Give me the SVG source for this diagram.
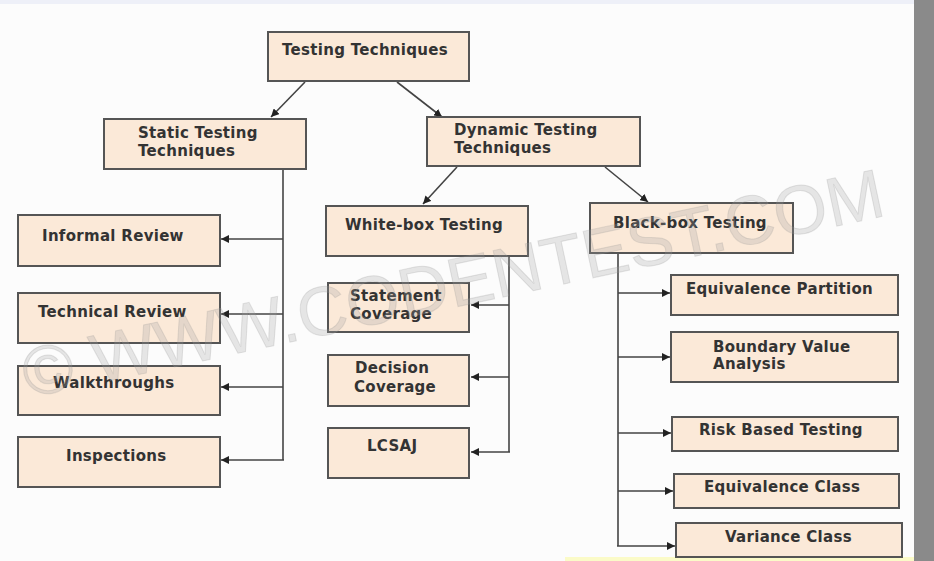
<svg xmlns="http://www.w3.org/2000/svg" width="934" height="561" viewBox="0 0 934 561">
<style>
.box{fill:#fbe9d8;stroke:#555;stroke-width:2}
.t{font-family:"DejaVu Sans","Liberation Sans",sans-serif;font-weight:bold;font-size:15px;letter-spacing:0.3px;fill:#333}
.c{fill:none;stroke:#444;stroke-width:1.6}
.wm{font-family:"Liberation Sans",Arial,sans-serif;font-size:69px;fill:#a0a0a0;fill-opacity:0.25;stroke:#909090;stroke-opacity:0.22;stroke-width:1}
</style>
<defs>
<marker id="ah" markerUnits="userSpaceOnUse" markerWidth="9" markerHeight="8" refX="8" refY="4" orient="auto">
<path d="M0,0 L8,4 L0,8 z" fill="#222"/>
</marker>
</defs>
<rect x="0" y="0" width="934" height="561" fill="#fcfcfc"/>
<rect x="0" y="0" width="914" height="4" fill="#eef0f8"/>
<rect x="914" y="0" width="20" height="561" fill="#8a8a8a"/>
<rect x="565" y="557" width="349" height="4" fill="#fbfbc8"/>

<g id="connectors">
<line class="c" x1="305" y1="82" x2="271" y2="117" marker-end="url(#ah)"/>
<line class="c" x1="397" y1="82" x2="442" y2="117" marker-end="url(#ah)"/>
<line class="c" x1="457" y1="167" x2="423" y2="204" marker-end="url(#ah)"/>
<line class="c" x1="605" y1="167" x2="648" y2="202" marker-end="url(#ah)"/>
<line class="c" x1="283" y1="169" x2="283" y2="460"/>
<line class="c" x1="283" y1="239" x2="221" y2="239" marker-end="url(#ah)"/>
<line class="c" x1="283" y1="314" x2="221" y2="314" marker-end="url(#ah)"/>
<line class="c" x1="283" y1="387" x2="221" y2="387" marker-end="url(#ah)"/>
<line class="c" x1="284" y1="460" x2="221" y2="460" marker-end="url(#ah)"/>
<line class="c" x1="509" y1="256" x2="509" y2="452"/>
<line class="c" x1="509" y1="305" x2="471" y2="305" marker-end="url(#ah)"/>
<line class="c" x1="509" y1="377" x2="471" y2="377" marker-end="url(#ah)"/>
<line class="c" x1="510" y1="452" x2="471" y2="452" marker-end="url(#ah)"/>
<line class="c" x1="618" y1="253" x2="618" y2="546"/>
<line class="c" x1="618" y1="293" x2="670" y2="293" marker-end="url(#ah)"/>
<line class="c" x1="618" y1="357" x2="670" y2="357" marker-end="url(#ah)"/>
<line class="c" x1="618" y1="433" x2="671" y2="433" marker-end="url(#ah)"/>
<line class="c" x1="618" y1="491" x2="673" y2="491" marker-end="url(#ah)"/>
<line class="c" x1="617" y1="546" x2="675" y2="546" marker-end="url(#ah)"/>
</g>

<g id="testing-techniques"><rect class="box" x="268" y="32" width="201" height="49"/><text class="t" x="282" y="55">Testing Techniques</text></g>
<g id="static"><rect class="box" x="104" y="119" width="202" height="50"/><text class="t" x="138" y="138">Static Testing</text><text class="t" x="138" y="156">Techniques</text></g>
<g id="dynamic"><rect class="box" x="427" y="117" width="213" height="49"/><text class="t" x="454" y="135">Dynamic Testing</text><text class="t" x="454" y="153">Techniques</text></g>
<g id="white-box"><rect class="box" x="326" y="206" width="202" height="50"/><text class="t" x="345" y="230">White-box Testing</text></g>
<g id="black-box"><rect class="box" x="590" y="203" width="203" height="50"/><text class="t" x="613" y="228">Black-box Testing</text></g>
<g id="informal-review"><rect class="box" x="18" y="215" width="202" height="51"/><text class="t" x="42" y="241">Informal Review</text></g>
<g id="technical-review"><rect class="box" x="18" y="293" width="202" height="50"/><text class="t" x="38" y="317">Technical Review</text></g>
<g id="walkthroughs"><rect class="box" x="18" y="366" width="202" height="49"/><text class="t" x="53" y="388">Walkthroughs</text></g>
<g id="inspections"><rect class="box" x="18" y="437" width="202" height="50"/><text class="t" x="66" y="461">Inspections</text></g>
<g id="statement-coverage"><rect class="box" x="328" y="283" width="141" height="49"/><text class="t" x="350" y="301">Statement</text><text class="t" x="350" y="319">Coverage</text></g>
<g id="decision-coverage"><rect class="box" x="328" y="355" width="141" height="51"/><text class="t" x="355" y="373">Decision</text><text class="t" x="354" y="392">Coverage</text></g>
<g id="lcsaj"><rect class="box" x="328" y="428" width="141" height="50"/><text class="t" x="367" y="451">LCSAJ</text></g>
<g id="equivalence-partition"><rect class="box" x="671" y="275" width="227" height="40"/><text class="t" x="686" y="294">Equivalence Partition</text></g>
<g id="boundary-value"><rect class="box" x="671" y="332" width="227" height="50"/><text class="t" x="713" y="352">Boundary Value</text><text class="t" x="713" y="369">Analysis</text></g>
<g id="risk-based"><rect class="box" x="672" y="417" width="226" height="34"/><text class="t" x="699" y="435">Risk Based Testing</text></g>
<g id="equivalence-class"><rect class="box" x="674" y="474" width="225" height="34"/><text class="t" x="704" y="492">Equivalence Class</text></g>
<g id="variance-class"><rect class="box" x="676" y="523" width="226" height="34"/><text class="t" x="725" y="542">Variance Class</text></g>

<text class="wm" x="28" y="398" transform="rotate(-12 28 398)">© WWW.CODENTEST.COM</text>
</svg>
